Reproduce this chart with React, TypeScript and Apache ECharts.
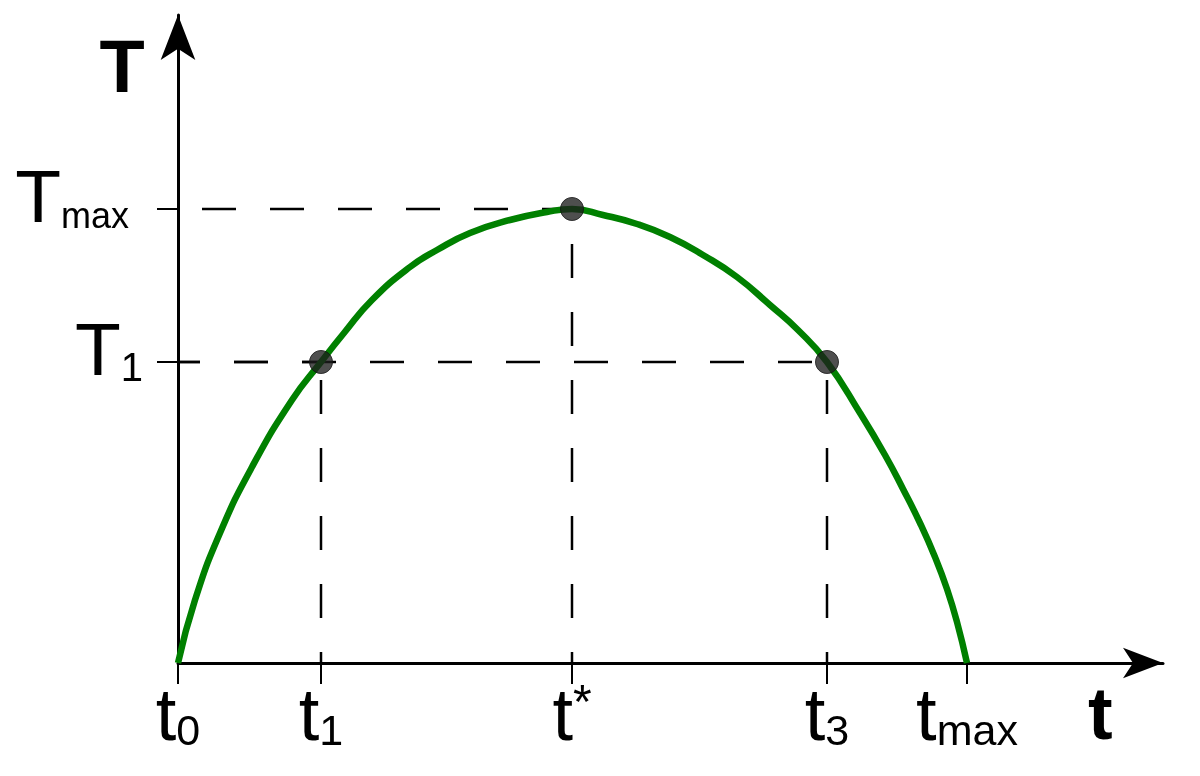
import * as echarts from "echarts";
import { useEffect, useRef } from "react";

// time (t) and temperature (T), in plot units
const curveTime = [0, 17, 42, 74, 114, 143, 166, 194, 232, 259, 292, 332, 369, 394, 425, 459, 492, 525, 559, 592, 620, 649, 682, 707, 725, 742, 757, 769, 779, 789];
const curveTemp = [0, 63, 130, 196, 263, 301, 330, 363, 396, 413, 430, 443, 451, 454, 448, 439, 426, 408, 386, 358, 333, 301, 250, 208, 174, 140, 106, 74, 41, 0];

const markTime = [143, 394, 649];
const markTemp = [301, 454, 301];

const xTickValues = [0, 143, 394, 649, 789];
const xTickSubs = ["0", "1", "*", "3", "max"];
const yTickValues = [301, 454];
const yTickSubs = ["1", "max"];

const font = "Liberation Sans, Arial, sans-serif";
const ink = "#000";

export default function App() {
  const ref = useRef<HTMLDivElement | null>(null);

  useEffect(() => {
    if (!ref.current) return;
    const chart = echarts.init(ref.current, undefined, { renderer: "svg" });

    const dashed = (data: number[][], dashOffset: number) => ({
      type: "line",
      data,
      symbol: "none",
      silent: true,
      z: 1,
      lineStyle: { color: ink, width: 2.5, type: [34, 34], dashOffset },
    });

    const guides = [
      ...markTime.map((t, i) => dashed([[0, markTemp[i]], [t, markTemp[i]]], i === 1 ? 44 : 12)),
      ...markTime.map((t, i) => dashed([[t, 0], [t, markTemp[i]]], 23)),
    ];

    chart.setOption({
      animation: false,
      textStyle: { fontFamily: font },
      grid: { left: 178, right: 37, top: 15, bottom: 113, outerBoundsMode: "none", containLabel: false },
      xAxis: {
        type: "value",
        min: 0,
        max: 985,
        name: "t",
        nameLocation: "end",
        nameGap: -75,
        nameMoveOverlap: false,
        nameTextStyle: { fontSize: 74, fontWeight: "bold", color: ink, verticalAlign: "top", align: "left", padding: [13, 0, 0, 0] },
        axisLine: { onZero: false, symbol: ["none", "arrow"], symbolSize: [23, 40], lineStyle: { color: ink, width: 3 } },
        axisTick: { show: true, customValues: xTickValues, length: 21, lineStyle: { color: ink, width: 2 } },
        axisLabel: {
          customValues: xTickValues,
          margin: 14,
          formatter: (v: number) => {
            const sub = xTickSubs[xTickValues.indexOf(v)];
            return sub === "*" ? `{b|t}{sup|*}` : `{b|t}{s|${sub}}`;
          },
          rich: {
            b: { fontSize: 74, lineHeight: 74, color: ink, fontFamily: font },
            s: { fontSize: 43, lineHeight: 43, color: ink, fontFamily: font, verticalAlign: "bottom" },
            sup: { fontSize: 48, lineHeight: 48, color: ink, fontFamily: font, verticalAlign: "top" },
          },
        },
        splitLine: { show: false },
      },
      yAxis: {
        type: "value",
        min: 0,
        max: 648,
        name: "T",
        nameLocation: "end",
        nameGap: -88,
        nameMoveOverlap: false,
        nameTextStyle: { fontSize: 74, fontWeight: "bold", color: ink, padding: [0, 112, 0, 0] },
        axisLine: { onZero: false, symbol: ["none", "arrow"], symbolSize: [26, 45], lineStyle: { color: ink, width: 3 } },
        axisTick: { show: true, customValues: yTickValues, length: 21, lineStyle: { color: ink, width: 2 } },
        axisLabel: {
          customValues: yTickValues,
          margin: 35,
          padding: [0, 0, 26, 0],
          formatter: (v: number) => {
            const sub = yTickSubs[yTickValues.indexOf(v)];
            return sub === "max" ? `{b|T}{sm|max}{gap|}` : `{b|T}{s|${sub}}`;
          },
          rich: {
            b: { fontSize: 75, lineHeight: 75, color: ink, fontFamily: font },
            s: { fontSize: 40, lineHeight: 40, color: ink, fontFamily: font, verticalAlign: "bottom" },
            sm: { fontSize: 36, lineHeight: 36, color: ink, fontFamily: font, verticalAlign: "bottom" },
            gap: { width: 14 },
          },
        },
        splitLine: { show: false },
      },
      series: [
        ...guides,
        {
          type: "line",
          data: curveTime.map((t, i) => [t, curveTemp[i]]),
          smooth: 0.5,
          symbol: "none",
          z: 3,
          lineStyle: { color: "#008000", width: 6.5 },
        },
        {
          type: "scatter",
          data: markTime.map((t, i) => [t, markTemp[i]]),
          symbolSize: 23,
          z: 4,
          itemStyle: { color: "#1e1e1e", opacity: 0.78, borderColor: "#111", borderWidth: 1 },
        },
      ],
    });

    return () => chart.dispose();
  }, []);

  return <div ref={ref} style={{ position: "fixed", left: 0, top: 0, width: 1200, height: 776 }} />;
}
